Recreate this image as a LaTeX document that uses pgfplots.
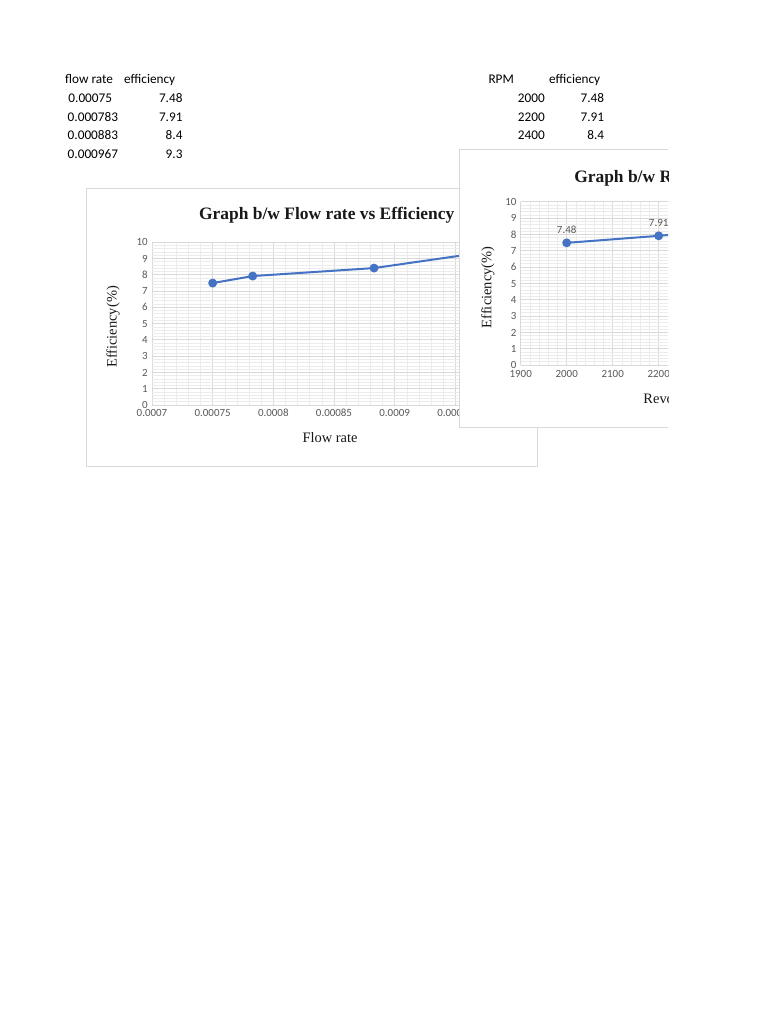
\documentclass[border=0pt]{standalone}
\usepackage{pgfplots}
\pgfplotsset{compat=1.18}
\usepackage{fontspec}
\setmainfont{Carlito}
\newfontfamily\serif{Liberation Serif}

\definecolor{xlblue}{HTML}{4472C4}
\definecolor{ticktext}{HTML}{595959}
\definecolor{majgrid}{HTML}{D9D9D9}
\definecolor{mingrid}{HTML}{ECECEC}
\definecolor{frame}{HTML}{D9D9D9}

% common look of both Excel charts
\pgfplotsset{
  every axis title shift=0pt,
  excel/.style={
    scale only axis,
    anchor=south west,
    ymin=0, ymax=10,
    ytick={0,1,...,10},
    minor x tick num=4,
    minor y tick num=4,
    grid=both,
    major grid style={majgrid, line width=0.7bp},
    minor grid style={mingrid, line width=0.5bp},
    axis line style={draw=none},
    tick style={draw=none},
    major tick length=0pt,
    minor tick length=0pt,
    scaled ticks=false,
    /pgf/number format/assume math mode=true,
    tick label style={font=\fontsize{11}{13}\selectfont, text=ticktext,
      inner sep=0pt, text height=7.5bp, text depth=0pt},
    yticklabel style={anchor=east, xshift=-4bp},
    xticklabel style={anchor=north, yshift=-3.5bp},
    label style={font=\serif\fontsize{14.5}{17}\selectfont, text=black!90},
    title style={font=\serif\bfseries\fontsize{17.5}{20}\selectfont, text=black!90},
  },
  series/.style={xlblue, line width=2bp, mark=*, mark size=3.4bp,
    mark options={fill=xlblue, draw=xlblue}},
}

\begin{document}
\begin{tikzpicture}
\path[fill=white] (0,0) rectangle (768bp,1024bp);

% ---- sheet cells ----
\begin{scope}[every node/.style={font=\fontsize{13.3}{15}\selectfont, inner sep=0pt}]
  \node[anchor=base west] at (65bp,940bp) {flow rate};
  \node[anchor=base west] at (124bp,940bp) {efficiency};
  \node[anchor=base east] at (112.3bp,921.7bp) {0.00075};
  \node[anchor=base east] at (118.3bp,902.7bp) {0.000783};
  \node[anchor=base east] at (118.3bp,884bp) {0.000883};
  \node[anchor=base east] at (118.3bp,865.7bp) {0.000967};
  \node[anchor=base east] at (182.7bp,921.7bp) {7.48};
  \node[anchor=base east] at (182.7bp,902.7bp) {7.91};
  \node[anchor=base east] at (182.7bp,884bp) {8.4};
  \node[anchor=base east] at (182.7bp,865.7bp) {9.3};

  \node[anchor=base west] at (488.3bp,940bp) {RPM};
  \node[anchor=base west] at (549bp,940bp) {efficiency};
  \node[anchor=base east] at (545bp,921.7bp) {2000};
  \node[anchor=base east] at (545bp,902.7bp) {2200};
  \node[anchor=base east] at (545bp,884bp) {2400};
  \node[anchor=base east] at (604.3bp,921.7bp) {7.48};
  \node[anchor=base east] at (604.3bp,902.7bp) {7.91};
  \node[anchor=base east] at (604.3bp,884bp) {8.4};
\end{scope}

% ---- chart 1: flow rate ----
\draw[frame, line width=0.8bp, fill=white] (86bp,558bp) rectangle (537bp,836bp);
\begin{axis}[
  excel,
  at={(152bp,619bp)},
  width=364bp, height=163bp,
  xmin=0.0007, xmax=0.001,
  xtick={0.0007,0.00075,0.0008,0.00085,0.0009,0.00095,0.001},
  xticklabels={0.0007,0.00075,0.0008,0.00085,0.0009,0.00095,0.001},
  title={Graph b/w Flow rate vs Efficiency},
  title style={at={(axis description cs:0.48,1.165)}, anchor=center},
  xlabel={Flow rate},
  xlabel style={at={(axis description cs:0.489,-0.202)}, anchor=center},
  ylabel={Efficiency(\%)},
  ylabel style={at={(axis description cs:-0.107,0.479)}, anchor=center},
]
\addplot[series] coordinates {(0.00075,7.48)(0.000783,7.91)(0.000883,8.4)(0.000967,9.3)};
\end{axis}

% ---- chart 2: RPM (cut at the right edge of the screen) ----
\begin{scope}
\clip (455bp,590bp) rectangle (668bp,880bp);
\draw[frame, line width=0.8bp, fill=white] (459bp,597bp) rectangle (910bp,875bp);
\begin{axis}[
  excel,
  at={(520.7bp,659bp)},
  width=368bp, height=163.3bp,
  xmin=1900, xmax=2700,
  xtick={1900,2000,2100,2200},
  xticklabel style={yshift=-1.5bp, /pgf/number format/set thousands separator={}},
  title={Graph b/w RPM vs Efficiency},
  title style={at={(axis description cs:0.136,1.143)}, anchor=west},
  xlabel={Revolutions per minute},
  xlabel style={at={(axis description cs:0.324,-0.214)}, anchor=west},
  ylabel={Efficiency(\%)},
  ylabel style={at={(axis description cs:-0.089,0.475)}, anchor=center},
  nodes near coords,
  nodes near coords style={font=\fontsize{11}{13}\selectfont, text=ticktext,
    inner sep=0pt, anchor=south, yshift=8.5bp},
]
\addplot[series] coordinates {(2000,7.48)(2200,7.91)(2400,8.4)(2600,9.3)};
\end{axis}
\end{scope}

\pgfresetboundingbox
\path[use as bounding box] (0,0) rectangle (768bp,1024bp);
\end{tikzpicture}
\end{document}
